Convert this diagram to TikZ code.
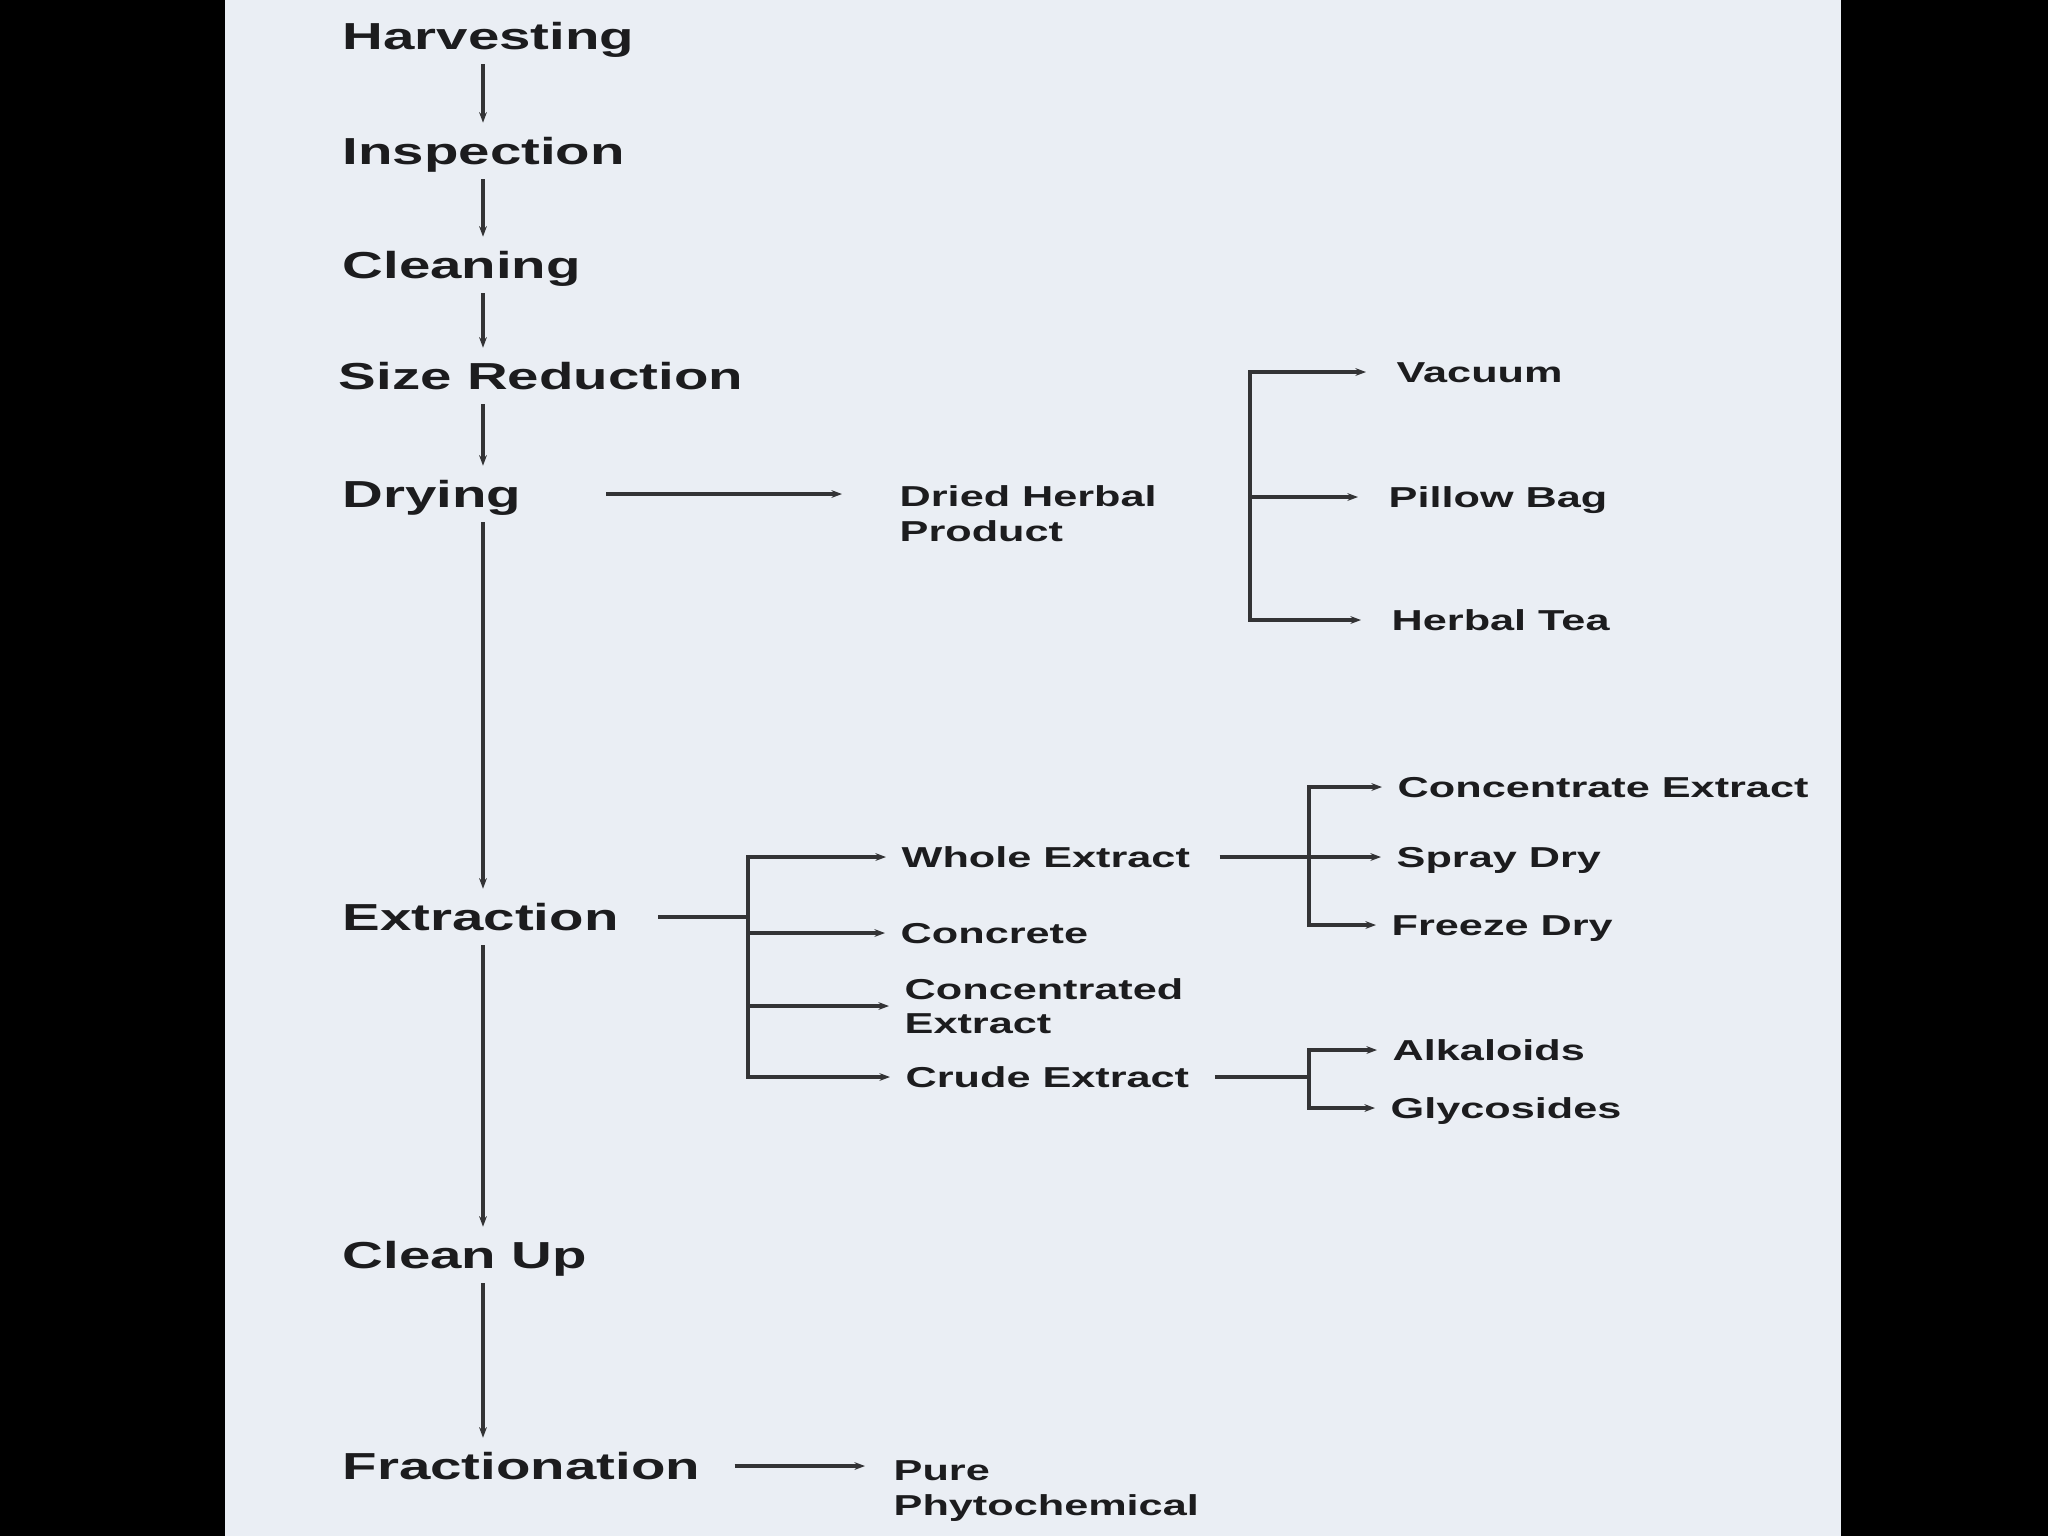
\documentclass[tikz,border=0pt]{standalone}
\usepackage{fontspec}
\usepackage{tikz}
\usetikzlibrary{calc, arrows.meta}
\newfontfamily\widesans[FakeStretch=1.5]{Liberation Sans}
\definecolor{paper}{RGB}{234,238,244}
\definecolor{ink}{RGB}{28,28,30}

\begin{document}
\begin{tikzpicture}[x=0.1mm,y=-0.1mm,
	stage/.style={anchor=west,inner xsep=0pt,inner ysep=4pt,text height=7.7pt,text depth=0pt,text=ink,font=\widesans\bfseries\fontsize{10.7}{12}\selectfont},
	leaf/.style={anchor=west,inner sep=0pt,text height=5.9pt,text depth=0pt,text=ink,font=\widesans\bfseries\fontsize{8.2}{9.8}\selectfont},
	twoline/.style={inner sep=0pt,align=left,text=ink,font=\widesans\bfseries\fontsize{8.2}{9.8}\selectfont},
	line/.style={draw=ink!90,line width=0.9pt},
	flow/.style={line,-{Stealth[length=3pt,width=2.2pt]}},
	branch/.style={flow,shorten >=1.5mm}]
	\useasboundingbox (0,0) rectangle (2048,1536);
	\fill[black] (0,0) rectangle (2048,1536); %frame
	\fill[paper] (225,0) rectangle (1841,1536); %sheet

	%main steps
	\node[stage] (harv) at (342,36) {Harvesting};
	\node[stage] (insp) at (342,151) {Inspection};
	\node[stage] (clng) at (342,265) {Cleaning};
	\node[stage] (size) at (338,376) {Size Reduction};
	\node[stage] (dry) at (342,494) {Drying};
	\node[stage] (extr) at (342,917) {Extraction};
	\node[stage] (clean) at (342,1255) {Clean Up};
	\node[stage] (fract) at (342,1466) {Fractionation};
	\coordinate (col) at (483,0);
	\draw[flow] (harv.south -| col)--(insp.north -| col);
	\draw[flow] (insp.south -| col)--(clng.north -| col);
	\draw[flow] (clng.south -| col)--(size.north -| col);
	\draw[flow] (size.south -| col)--(dry.north -| col);
	\draw[flow] (dry.south -| col)--(extr.north -| col);
	\draw[flow] (extr.south -| col)--(clean.north -| col);
	\draw[flow] (clean.south -| col)--(fract.north -| col);

	%drying branch
	\node[twoline,anchor=north west] (dried) at (899,485) {Dried Herbal\\Product};
	\draw[flow,shorten <=8.4mm,shorten >=5.7mm] (dry.east)--(dry.east -| dried.west);
	\coordinate (dsp) at (1250,497);
	\node[leaf] (vac) at (1396,372) {Vacuum};
	\node[leaf] (pil) at (1388,497) {Pillow Bag};
	\node[leaf] (tea) at (1391,620) {Herbal Tea};
	\draw[line,line cap=rect] (vac.west -| dsp)--(tea.west -| dsp);
	\foreach \n in {vac,pil,tea} \draw[branch,shorten >=3mm] (\n.west -| dsp)--(\n.west);

	%extraction branch
	\coordinate (esp) at (748,917);
	\node[leaf] (whole) at (901,857) {Whole Extract};
	\node[leaf] (concr) at (900,933) {Concrete};
	\node[twoline,anchor=west] (conc) at (904,1006) {Concentrated\\Extract};
	\node[leaf] (crude) at (905,1077) {Crude Extract};
	\draw[line,shorten <=3.9mm] (extr.east)--(extr.east -| esp);
	\draw[line,line cap=rect] (whole.west -| esp)--(crude.west -| esp);
	\foreach \n in {whole,concr,conc,crude} \draw[branch] (\n.west -| esp)--(\n.west);

	\coordinate (wsp) at (1309,857);
	\node[leaf] (cext) at (1397,787) {Concentrate Extract};
	\node[leaf] (spray) at (1396,857) {Spray Dry};
	\node[leaf] (freeze) at (1391,925) {Freeze Dry};
	\draw[line,shorten <=2.9mm] (whole.east)--(whole.east -| wsp);
	\draw[line,line cap=rect] (cext.west -| wsp)--(freeze.west -| wsp);
	\foreach \n in {cext,spray,freeze} \draw[branch] (\n.west -| wsp)--(\n.west);

	\coordinate (csp) at (1309,1077);
	\node[leaf] (alk) at (1392,1050) {Alkaloids};
	\node[leaf] (gly) at (1390,1108) {Glycosides};
	\draw[line,shorten <=2.5mm] (crude.east)--(crude.east -| csp);
	\draw[line,line cap=rect] (alk.west -| csp)--(gly.west -| csp);
	\foreach \n in {alk,gly} \draw[branch] (\n.west -| csp)--(\n.west);

	%fractionation
	\node[twoline,anchor=north west] (pure) at (893,1460) {Pure\\Phytochemical};
	\draw[flow,shorten <=3.4mm,shorten >=2.8mm] (fract.east)--(fract.east -| pure.west);
\end{tikzpicture}
\end{document}
